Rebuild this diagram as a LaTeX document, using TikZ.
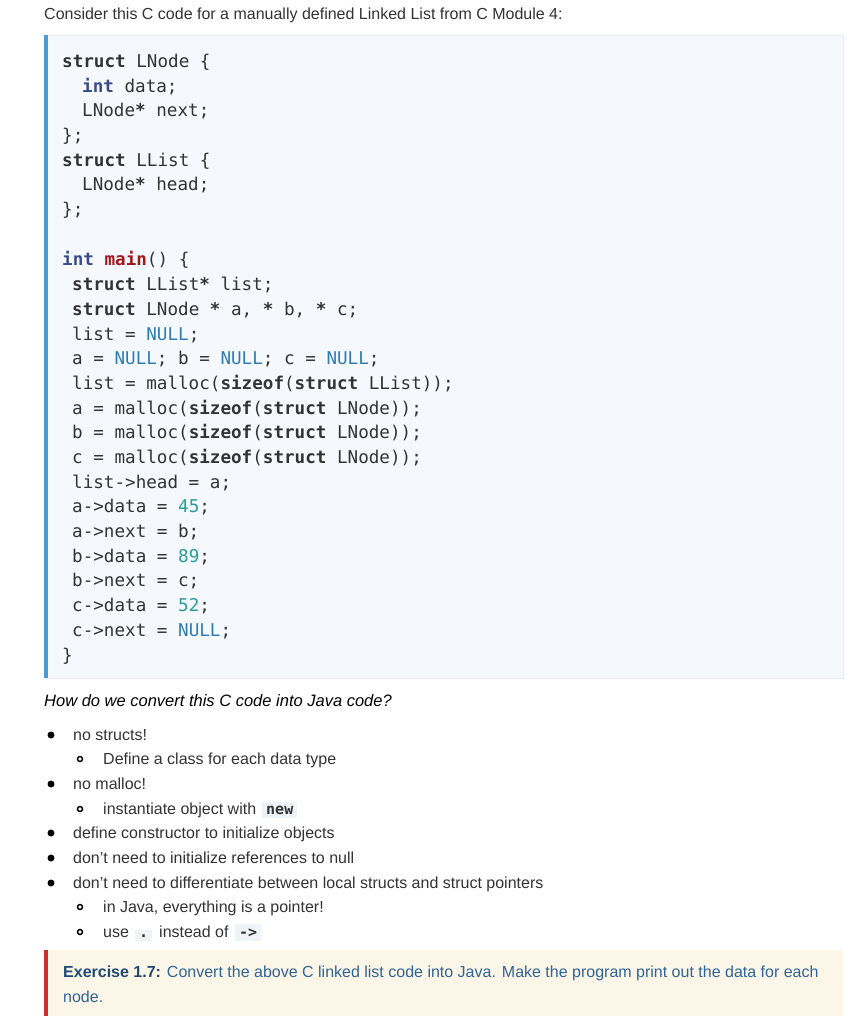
\documentclass[tikz,border=0pt]{standalone}
\usepackage{fontspec}
\setmainfont{Liberation Sans}
\newfontfamily\cmono{DejaVu Sans Mono}
\definecolor{kw}{HTML}{3B4A8A}
\definecolor{fn}{HTML}{A0161B}
\definecolor{nl}{HTML}{2F7CB5}
\definecolor{num}{HTML}{2A9C98}
\definecolor{txt}{HTML}{333333}
\definecolor{codebg}{HTML}{F5F9FD}
\definecolor{codebar}{HTML}{4A9AD4}
\definecolor{exbg}{HTML}{FBF6E7}
\definecolor{exbar}{HTML}{C8302B}
\definecolor{exblue}{HTML}{2F6496}
\definecolor{exdark}{HTML}{1F4A74}
\definecolor{inl}{HTML}{EEF3F8}
\newcommand{\B}[1]{\textbf{#1}}
\newcommand{\K}[1]{\textcolor{kw}{#1}}
\newcommand{\N}[1]{\textcolor{nl}{#1}}
\newcommand{\M}[1]{\textcolor{num}{#1}}
\begin{document}
\begin{tikzpicture}[x=1pt,y=-1pt,
  cl/.style={anchor=base west,inner sep=0pt,font=\cmono\fontsize{17.6}{20}\selectfont,text=txt},
  tx/.style={anchor=base west,inner sep=0pt,font=\fontsize{16}{18}\selectfont,text=txt},
  inlc/.style={anchor=base west,inner xsep=4pt,inner ysep=4pt,fill=inl,font=\cmono\bfseries\fontsize{15}{17}\selectfont,text=txt}]
\useasboundingbox (0,0) rectangle (849,1024);
\fill[white] (0,0) rectangle (849,1024);
\node[tx] (t0) at (44,20) {Consider this C code for a manually defined Linked List from C Module 4:};
\fill[codebg] (44,35) rectangle (843,678);
\draw[black!8] (44,35) rectangle (843,678);
\fill[codebar] (44,35) rectangle (48,678);
\node[cl] (c1) at (62,68) {\B{struct} LNode \{};
\node[cl] (c2) at (82,93) {\K{\B{int}} data;};
\node[cl] (c3) at (82,117) {LNode\B{*} next;};
\node[cl] (c4) at (62,142) {\};};
\node[cl] (c5) at (62,167) {\B{struct} LList \{};
\node[cl] (c6) at (82,191) {LNode\B{*} head;};
\node[cl] (c7) at (62,216) {\};};
\node[cl] (c8) at (62,265) {\K{\B{int}} \textcolor{fn}{\B{main}}() \{};
\node[cl] (c9) at (72,290) {\B{struct} LList\B{*} list;};
\node[cl] (c10) at (72,315) {\B{struct} LNode \B{*} a, \B{*} b, \B{*} c;};
\node[cl] (c11) at (72,340) {list = \N{NULL};};
\node[cl] (c12) at (72,364) {a = \N{NULL}; b = \N{NULL}; c = \N{NULL};};
\node[cl] (c13) at (72,389) {list = malloc(\B{sizeof}(\B{struct} LList));};
\node[cl] (c14) at (72,414) {a = malloc(\B{sizeof}(\B{struct} LNode));};
\node[cl] (c15) at (72,438) {b = malloc(\B{sizeof}(\B{struct} LNode));};
\node[cl] (c16) at (72,463) {c = malloc(\B{sizeof}(\B{struct} LNode));};
\node[cl] (c17) at (72,488) {list->head = a;};
\node[cl] (c18) at (72,512) {a->data = \M{45};};
\node[cl] (c19) at (72,537) {a->next = b;};
\node[cl] (c20) at (72,562) {b->data = \M{89};};
\node[cl] (c21) at (72,586) {b->next = c;};
\node[cl] (c22) at (72,611) {c->data = \M{52};};
\node[cl] (c23) at (72,636) {c->next = \N{NULL};};
\node[cl] (c24) at (62,661) {\}};
\node[tx,font=\itshape\fontsize{16.5}{18}\selectfont,text=black] (q) at (44,706) {How do we convert this C code into Java code?};
\foreach \y in {740,789,838,863,888}{\fill[black] (51,\y-5) circle (3.5);}
\foreach \y in {764,814,912,937}{\draw[black,line width=1.5pt] (80,\y-5) circle (2.5);}
\node[tx] (l1) at (73,740) {no structs!};
\node[tx] (l2) at (103,764) {Define a class for each data type};
\node[tx] (l3) at (73,789) {no malloc!};
\node[tx] (l4) at (103,814) {instantiate object with};
\node[inlc] (n1) at (262,814) {new};
\node[tx] (l5) at (73,838) {define constructor to initialize objects};
\node[tx] (l6) at (73,863) {don't need to initialize references to null};
\node[tx] (l7) at (73,888) {don't need to differentiate between local structs and struct pointers};
\node[tx] (l8) at (103,912) {in Java, everything is a pointer!};
\node[tx] (l9) at (103,937) {use};
\node[inlc] (n2) at (135,937) {.};
\node[tx] (l10) at (159,937) {instead of};
\node[inlc] (n3) at (235,937) {->};
\fill[exbg] (44,950) rectangle (843,1016);
\fill[exbar] (44,950) rectangle (48,1016);
\node[tx,text=exblue] (e1) at (63,977) {\textcolor{exdark}{\textbf{Exercise 1.7:}} Convert the above C linked list code into Java. Make the program print out the data for each};
\node[tx,text=exblue] (e2) at (63,1002) {node.};
\end{tikzpicture}
\end{document}
